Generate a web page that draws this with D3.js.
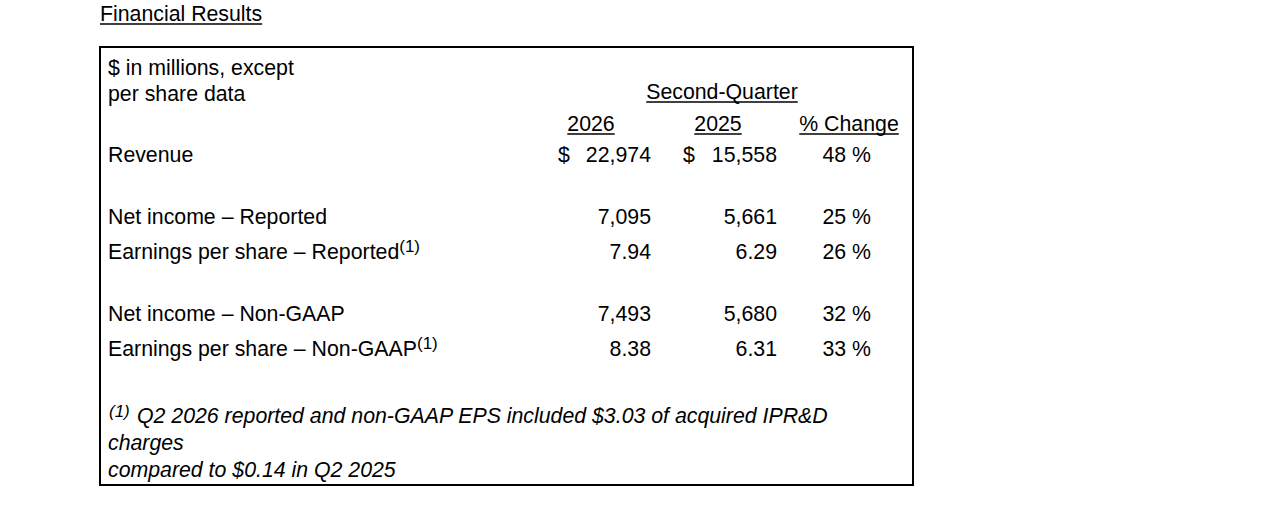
<!DOCTYPE html>
<html>
<head>
<meta charset="utf-8">
<script src="https://cdn.jsdelivr.net/npm/d3@7"></script>
<style>
  body { margin: 0; background: #fff; }
  svg text { font-family: "Liberation Sans", Arial, sans-serif; fill: #000; }
</style>
</head>
<body>
<svg id="table"></svg>
<script>
// Table content
const title = "Financial Results";
const unitLines = ["$ in millions, except", "per share data"];
const periodLabel = "Second-Quarter";
const columns = ["2026", "2025", "% Change"];

const rowLabels = ["Revenue", "Net income \u2013 Reported", "Earnings per share \u2013 Reported",
                   "Net income \u2013 Non-GAAP", "Earnings per share \u2013 Non-GAAP"];
const rowGroups = [0, 1, 1, 2, 2];
const rowNoted = [false, false, true, false, true];
const rowKind = ["money", "money", "eps", "money", "eps"];

const values2026 = [22974, 7095, 7.94, 7493, 8.38];
const values2025 = [15558, 5661, 6.29, 5680, 6.31];
const pctChange = [48, 25, 26, 32, 33];

const footnoteMark = "(1)";
const footnoteLines = ["Q2 2026 reported and non-GAAP EPS included $3.03 of acquired IPR&D",
                       "charges", "compared to $0.14 in Q2 2025"];

// Dimensions
const width = 1280, height = 512;
const fontSize = 21.3;
const supSize = 17;
const box = {left: 100, top: 47, right: 913, bottom: 485};

const svg = d3.select("#table")
    .attr("width", width)
    .attr("height", height);

// Row positions: one unit per row, plus a blank gap between groups
const gapUnits = 27 / 35;
const yScale = d3.scaleLinear()
    .domain([0, 1])
    .range([162, 197]);
const rowY = i => yScale(i + rowGroups[i] * gapUnits);

// Column right edges for the numbers
const xRight = d3.scaleOrdinal()
    .domain(columns)
    .range([651, 777, 871]);
const dollarX = d3.scaleOrdinal()
    .domain(columns.slice(0, 2))
    .range([558, 683]);

const fmtMoney = d3.format(",");
const fmtEps = d3.format(".2f");
const fmt = (v, i) => rowKind[i] === "eps" ? fmtEps(v) : fmtMoney(v);

// Helper to underline a text node
function underline(sel, offset) {
    sel.each(function() {
        const bb = this.getBBox();
        const y = +d3.select(this).attr("y") + offset;
        svg.append("line")
            .attr("x1", bb.x).attr("x2", bb.x + bb.width)
            .attr("y1", y).attr("y2", y)
            .attr("stroke", "#000")
            .attr("stroke-width", 1.4);
    });
}

// Title
svg.append("text")
    .attr("x", 100)
    .attr("y", 21)
    .style("font-size", fontSize + "px")
    .text(title)
    .call(underline, 3);

// Outer box
svg.append("rect")
    .attr("x", box.left)
    .attr("y", box.top)
    .attr("width", box.right - box.left)
    .attr("height", box.bottom - box.top)
    .attr("fill", "none")
    .attr("stroke", "#000")
    .attr("stroke-width", 2);

// Units note
svg.selectAll(".unit")
    .data(unitLines)
    .enter().append("text")
    .attr("class", "unit")
    .attr("x", 108)
    .attr("y", (d, i) => 75 + i * 26)
    .style("font-size", fontSize + "px")
    .text(d => d);

// Period header
svg.append("text")
    .attr("x", 722)
    .attr("y", 99)
    .attr("text-anchor", "middle")
    .style("font-size", fontSize + "px")
    .text(periodLabel)
    .call(underline, 3);

// Column headers
const headerCenter = d3.scaleOrdinal()
    .domain(columns)
    .range([591, 718, 849]);
svg.selectAll(".colhead")
    .data(columns)
    .enter().append("text")
    .attr("class", "colhead")
    .attr("x", d => headerCenter(d))
    .attr("y", 131)
    .attr("text-anchor", "middle")
    .style("font-size", fontSize + "px")
    .text(d => d)
    .call(underline, 3);

// Row labels
const labels = svg.selectAll(".rowlabel")
    .data(rowLabels)
    .enter().append("text")
    .attr("class", "rowlabel")
    .attr("x", 108)
    .attr("y", (d, i) => rowY(i))
    .style("font-size", fontSize + "px");
labels.append("tspan").text(d => d);
labels.filter((d, i) => rowNoted[i])
    .append("tspan")
    .attr("dy", -7)
    .style("font-size", supSize + "px")
    .text(footnoteMark);

// Values
const series = [values2026, values2025];
series.forEach((vals, c) => {
    const col = columns[c];
    svg.selectAll(".val" + c)
        .data(vals)
        .enter().append("text")
        .attr("class", "val" + c)
        .attr("x", xRight(col))
        .attr("y", (d, i) => rowY(i))
        .attr("text-anchor", "end")
        .style("font-size", fontSize + "px")
        .text((d, i) => fmt(d, i));

    // Dollar sign on the first row only
    svg.append("text")
        .attr("x", dollarX(col))
        .attr("y", rowY(0))
        .style("font-size", fontSize + "px")
        .text("$");
});

svg.selectAll(".pct")
    .data(pctChange)
    .enter().append("text")
    .attr("class", "pct")
    .attr("x", xRight(columns[2]))
    .attr("y", (d, i) => rowY(i))
    .attr("text-anchor", "end")
    .style("font-size", fontSize + "px")
    .text(d => d + " %");

// Footnote
svg.append("text")
    .attr("x", 109)
    .attr("y", 417)
    .style("font-size", supSize + "px")
    .style("font-style", "italic")
    .text(footnoteMark);

svg.selectAll(".foot")
    .data(footnoteLines)
    .enter().append("text")
    .attr("class", "foot")
    .attr("x", (d, i) => i === 0 ? 137 : 108)
    .attr("y", (d, i) => 423 + i * 27)
    .style("font-size", fontSize + "px")
    .style("font-style", "italic")
    .text(d => d);
</script>
</body>
</html>
